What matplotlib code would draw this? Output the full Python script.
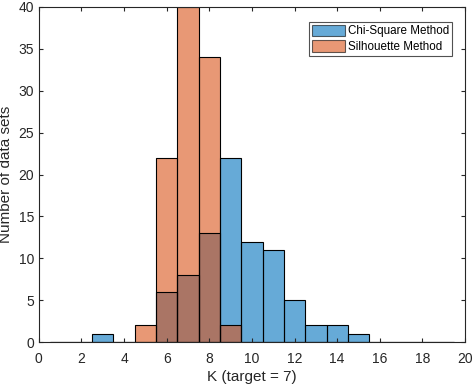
import numpy as np
import matplotlib
matplotlib.use("Agg")
import matplotlib.pyplot as plt

plt.rcParams['font.family'] = ['Liberation Sans', 'DejaVu Sans']

# bin centres (K) and counts per method
k_values = list(range(1, 20))
chi_square = [0, 0, 1, 0, 0, 6, 8, 13, 22, 12, 11, 5, 2, 2, 1, 0, 0, 0, 0]
silhouette = [0, 0, 0, 0, 2, 22, 40, 34, 2, 0, 0, 0, 0, 0, 0, 0, 0, 0, 0]

blue = (0.0, 0.447, 0.741)
orange = (0.85, 0.325, 0.098)
axis_gray = (0.15, 0.15, 0.15)

fig = plt.figure(figsize=(4.74, 3.84), dpi=100)
ax = fig.add_axes([0.082, 0.109, 0.899, 0.873])

ax.bar(k_values, chi_square, width=1.0, color=blue, alpha=0.6,
       edgecolor='none', label='Chi-Square Method')
ax.bar(k_values, silhouette, width=1.0, color=orange, alpha=0.6,
       edgecolor='none', label='Silhouette Method')
# black outlines on top (full opacity like MATLAB edges)
ax.bar(k_values, chi_square, width=1.0, fill=False, edgecolor='black', linewidth=0.8)
ax.bar(k_values, silhouette, width=1.0, fill=False, edgecolor='black', linewidth=0.8)

ax.set_xlim(0, 20)
ax.set_ylim(0, 40)
ax.set_xticks(np.arange(0, 21, 2))
ax.set_yticks(np.arange(0, 41, 5))
ax.tick_params(direction='in', top=True, right=True, length=3,
               colors=axis_gray, labelsize=10)
ax.tick_params(axis='x', pad=7)
for s in ax.spines.values():
    s.set_color(axis_gray)
    s.set_linewidth(0.8)

ax.set_xlabel('K (target = 7)', fontsize=11, color=axis_gray, labelpad=3)
ax.set_ylabel('Number of data sets', fontsize=11, color=axis_gray, labelpad=4)

leg = ax.legend(loc='upper right', bbox_to_anchor=(0.97, 0.955), fontsize=8.4,
                frameon=True, fancybox=False, borderpad=0.25, handlelength=2.8,
                handleheight=1.1, handletextpad=0.3, borderaxespad=0.0,
                labelspacing=0.25)
leg.get_frame().set_edgecolor(axis_gray)
leg.get_frame().set_linewidth(0.8)
for h in leg.legend_handles:
    h.set_edgecolor('black')
    h.set_linewidth(0.8)

fig.savefig('out.png', dpi=100)
